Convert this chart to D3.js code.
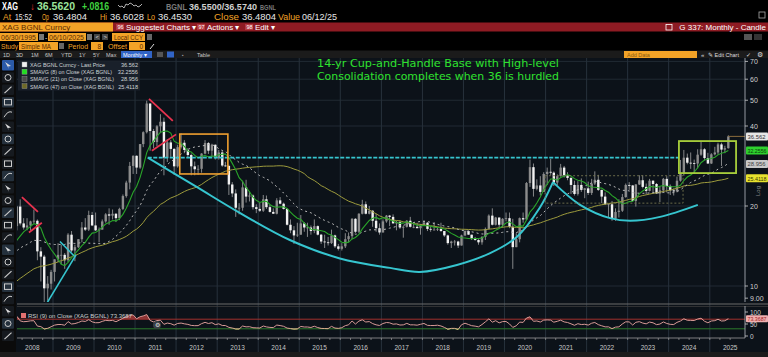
<!DOCTYPE html>
<html><head><meta charset="utf-8">
<script src="https://cdn.jsdelivr.net/npm/d3@7"></script>
<style>
html,body{margin:0;padding:0;background:#000;overflow:hidden;}
svg{display:block;font-family:"Liberation Sans",Arial,sans-serif;}
</style></head><body>
<svg id="c" width="768" height="357"></svg>
<script>
// ---------- DATA (monthly XAG, Jan 2008 .. Jun 2025) ----------
const open = [
14.8,16.8,19.9,17.2,16.6,16.9,17.5,17.6,13.5,12.9,9.8,10.2,
11.3,12.6,13.1,13.1,12.5,15.6,13.6,14.0,15.0,16.6,16.3,18.5,
16.9,16.2,16.3,17.5,18.6,18.4,18.7,18.0,19.5,21.8,24.5,28.3,
30.9,27.9,34.2,37.9,48.6,38.3,34.8,39.9,41.5,30.4,34.7,32.8,
28.2,33.3,34.6,32.5,31.1,28.2,27.5,27.6,31.5,34.5,32.3,34.0,
30.3,31.8,28.4,28.3,24.1,22.3,19.7,19.7,23.5,21.7,21.9,19.8,
19.5,19.2,21.2,19.8,19.0,18.7,21.0,20.4,19.5,17.0,16.2,15.5,
15.6,17.2,16.6,16.6,16.1,16.8,15.6,14.7,14.6,14.5,15.5,14.1,
13.8,14.1,15.0,15.4,17.9,16.0,18.7,20.3,18.7,19.2,17.6,16.5,
15.9,17.5,18.4,18.2,17.2,17.4,16.6,16.7,17.6,16.7,16.7,16.5,
16.9,17.3,16.4,16.3,16.3,16.4,16.1,15.5,14.5,14.7,14.7,14.2,
15.5,16.1,15.6,15.1,14.9,14.6,15.3,16.4,18.4,17.0,18.1,17.0,
17.9,18.0,16.7,14.0,15.0,18.0,17.8,24.4,28.0,23.2,23.9,22.6,
26.4,26.9,26.7,24.5,25.9,27.9,26.1,25.5,24.0,22.2,24.0,23.0,
23.3,22.4,24.3,25.1,23.0,21.7,20.3,20.3,17.9,19.0,19.2,21.6,
24.0,23.9,20.9,24.1,25.0,23.6,22.8,24.9,24.2,22.3,22.9,25.3,
23.8,22.9,22.7,24.9,26.6,30.4,29.1,29.0,28.9,31.2,32.7,30.3,
28.9,31.3,31.8,34.1,32.6,33.0];
const high = [
16.9,20.0,21.2,18.0,18.0,17.6,19.4,17.8,14.0,13.1,10.9,11.5,
12.6,14.5,14.3,13.3,15.8,16.1,14.3,15.0,17.4,18.0,19.2,19.0,
18.9,16.6,17.8,18.8,19.6,19.4,18.8,19.7,22.1,24.9,29.3,31.0,
31.0,34.2,38.2,49.8,48.7,39.0,40.3,44.3,43.0,35.7,35.4,33.0,
34.0,37.5,35.4,33.0,31.5,29.4,28.5,31.6,35.4,34.8,34.3,34.1,
32.5,32.4,29.3,28.6,24.6,23.1,20.5,24.9,25.1,22.7,22.1,20.3,
20.6,22.0,21.9,20.2,19.6,21.4,21.6,20.6,19.6,17.8,16.8,17.3,
18.5,17.4,17.3,16.9,17.8,16.9,15.7,15.6,15.3,16.3,15.6,14.4,
14.5,15.8,15.9,18.0,18.0,18.8,21.1,20.8,20.0,19.3,18.7,17.2,
17.8,18.5,18.5,18.6,17.6,17.7,16.8,17.7,18.2,17.4,17.3,17.1,
17.7,17.4,16.8,17.4,16.7,17.3,16.1,15.6,14.8,14.9,14.8,15.6,
16.2,16.2,15.6,15.3,15.0,15.4,16.6,18.6,19.6,18.2,18.1,18.0,
18.9,18.9,17.9,15.8,18.1,18.9,24.6,29.9,28.9,25.2,25.9,26.8,
27.9,30.1,27.0,26.3,28.8,28.3,26.8,25.7,24.9,24.8,25.4,23.4,
24.7,25.3,27.0,26.2,23.0,22.5,20.4,20.9,19.6,21.2,22.2,24.3,
24.6,24.0,24.2,26.1,26.1,24.3,25.3,25.0,24.4,23.7,25.5,25.9,
24.1,23.3,25.8,29.8,32.5,31.5,31.8,29.9,32.7,34.9,33.0,31.7,
31.6,33.4,34.6,34.6,33.7,36.9];
const low = [
14.8,16.2,16.9,16.3,16.2,16.2,17.2,12.5,10.4,8.4,8.8,9.7,
10.4,12.3,12.1,11.6,12.3,13.4,12.4,13.9,14.6,16.1,16.1,16.8,
16.1,14.6,16.3,17.3,17.0,17.8,17.4,17.7,19.3,21.5,23.1,26.4,
26.4,27.6,33.3,37.5,32.3,33.0,33.6,37.6,26.1,29.3,30.6,26.2,
27.9,32.9,31.6,30.3,26.1,26.1,26.2,26.7,31.3,31.4,30.7,29.9,
29.9,28.1,28.1,22.0,21.6,18.2,18.6,19.2,20.6,20.8,19.4,18.8,
19.0,19.0,19.5,18.9,18.7,18.6,20.3,19.4,16.9,15.8,14.4,15.3,
15.6,16.0,15.3,15.6,15.8,15.5,14.4,13.9,14.2,14.4,13.9,13.6,
13.6,13.9,14.6,15.0,15.8,15.8,18.6,18.6,18.6,16.7,16.0,15.6,
15.9,17.3,16.8,17.2,16.2,16.4,15.2,16.6,16.6,16.5,16.5,15.6,
16.9,16.1,16.0,16.2,16.1,16.0,15.3,14.3,13.9,14.2,13.9,14.2,
15.4,15.6,14.9,14.8,14.3,14.3,14.9,16.3,16.9,16.9,16.6,16.6,
17.5,16.5,11.6,14.0,14.6,17.3,17.7,23.6,21.7,22.9,21.9,22.6,
24.0,26.2,23.8,24.0,25.8,25.6,25.0,22.2,21.9,21.9,22.6,21.4,
22.0,22.0,24.0,22.8,20.5,20.2,18.1,17.6,17.6,18.1,19.0,21.5,
23.0,20.8,19.9,24.0,23.3,22.1,22.7,22.2,22.2,20.7,22.5,22.5,
22.0,21.9,22.5,24.7,26.0,28.7,27.6,26.5,27.7,30.9,29.7,28.8,
28.8,31.0,31.2,28.3,31.6,32.9];
const close = [
16.8,19.9,17.2,16.6,16.9,17.5,17.6,13.5,12.9,9.8,10.2,11.3,
12.6,13.1,13.1,12.5,15.6,13.6,14.0,15.0,16.6,16.3,18.5,16.9,
16.2,16.3,17.5,18.6,18.4,18.7,18.0,19.5,21.8,24.5,28.3,30.9,
27.9,34.2,37.9,48.6,38.3,34.8,39.9,41.5,30.4,34.7,32.8,28.2,
33.3,34.6,32.5,31.1,28.2,27.5,27.6,31.5,34.5,32.3,34.0,30.3,
31.8,28.4,28.3,24.1,22.3,19.7,19.7,23.5,21.7,21.9,19.8,19.5,
19.2,21.2,19.8,19.0,18.7,21.0,20.4,19.5,17.0,16.2,15.5,15.6,
17.2,16.6,16.6,16.1,16.8,15.6,14.7,14.6,14.5,15.5,14.1,13.8,
14.1,15.0,15.4,17.9,16.0,18.7,20.3,18.7,19.2,17.6,16.5,15.9,
17.5,18.4,18.2,17.2,17.4,16.6,16.7,17.6,16.7,16.7,16.5,16.9,
17.3,16.4,16.3,16.3,16.4,16.1,15.5,14.5,14.7,14.7,14.2,15.5,
16.1,15.6,15.1,14.9,14.6,15.3,16.4,18.4,17.0,18.1,17.0,17.9,
18.0,16.7,14.0,15.0,18.0,17.8,24.4,28.0,23.2,23.9,22.6,26.4,
26.9,26.7,24.5,25.9,27.9,26.1,25.5,24.0,22.2,24.0,23.0,23.3,
22.4,24.3,25.1,23.0,21.7,20.3,20.3,17.9,19.0,19.2,21.6,24.0,
23.9,20.9,24.1,25.0,23.6,22.8,24.9,24.2,22.3,22.9,25.3,23.8,
22.9,22.7,24.9,26.6,30.4,29.1,29.0,28.9,31.2,32.7,30.3,28.9,
31.3,31.8,34.1,32.6,33.0,36.56];
// closes 2004-2007 (used only to warm up the moving averages / RSI)
const priorCloses = [
6.36,6.69,7.91,6.04,6.09,5.86,6.60,6.78,6.95,7.28,7.52,6.82,
6.71,7.37,7.14,6.98,7.33,7.04,7.17,6.83,7.50,7.61,8.19,8.83,
9.86,9.65,11.53,13.60,12.40,10.84,11.28,12.93,11.57,12.62,14.04,12.90,
13.40,14.13,13.34,13.46,13.33,12.48,12.91,12.04,13.87,14.42,14.30,14.76];
const yearLabels = [2008,2009,2010,2011,2012,2013,2014,2015,2016,2017,2018,2019,2020,2021,2022,2023,2024,2025];
const priceTicks = [9,10,20,40,50,60,70];
const priceTickLabels = ["9.00","10","20","40","50","60","70"];
const rsiTicks = [0,50,100];
const legendNames = ["XAG BGNL Curncy - Last Price","SMAVG (8) on Close (XAG BGNL)","SMAVG (21) on Close (XAG BGNL)","SMAVG (47) on Close (XAG BGNL)"];
const legendValues = ["36.562","32.2556","28.956","25.4118"];
const rsiLabel = "RSI (9) on Close (XAG BGNL) 73.3687";
const rsiValueLabel = "73.3687";
const noteLines = ["14-yr Cup-and-Handle Base with High-level","Consolidation completes when 36 is hurdled"];
// drawn annotations, in [decimal year, price]
const resistancePrice = 30.4, resistanceFrom = 2011.31, resistanceTo = 2024.25;
const cupPts = [[2011.31,30.4],[2012.46,23.8],[2013.56,18.8],[2014.77,14.9],[2015.99,12.7],[2017.21,11.7],[2017.94,11.3],[2018.84,12.0],[2019.65,13.3],[2020.30,15.3],[2020.86,19.7],[2021.18,24.6]];
const handlePts = [[2021.18,24.6],[2021.84,20.2],[2022.57,18.0],[2023.06,17.6],[2023.79,18.2],[2024.71,20.2]];
const redLines = [[[2008.245,21.6],[2008.635,19.0]],[[2008.415,15.9],[2008.73,17.3]],[[2011.34,50.6],[2011.92,41.8]],[[2011.41,32.3],[2012.0,37.2]]];
const cyanLines = [[[2008.85,8.6],[2009.56,13.1]],[[2009.17,14.7],[2009.51,13.0]]];
const orangeBox = [[2012.09,37.3],[2013.26,26.4]];
const greenBox = [[2024.25,35.1],[2025.64,26.6]];
const grayBox = [[2020.99,26.0],[2024.35,20.5]];
const sparkVals = [5,3,4,2,6,5,7,6,4,5,3,4,6];

// ---------- SETUP ----------
const svg = d3.select("#c");
const PL=17, PR=745, PT=58, PB=302, RT=306, RB=338;
const x = d3.scaleTime().domain([new Date(2009,0,1), new Date(2025,0,1)]).range([53, 709.8]);
const y = d3.scaleLog().domain([10,20]).range([286,206]);
const yR = d3.scaleLinear().domain([0,100]).range([336,312]);
const months = d3.range(close.length).map(i => new Date(2008, i, 15));
const yd = t => new Date(new Date(Math.floor(t),0,1).getTime() + (t - Math.floor(t))*365.25*864e5);
const ORANGE="#f3a327";

const allClose = priorCloses.concat(close);
const off = priorCloses.length;
function sma(n){ return close.map((c,i)=>{const j=i+off; if(j<n-1) return null; return d3.mean(allClose.slice(j-n+1,j+1));}); }
function rsi(n){
  let ag=0, al=0; const out=[];
  for(let i=1;i<allClose.length;i++){
    const ch=allClose[i]-allClose[i-1], g=Math.max(ch,0), l=Math.max(-ch,0);
    if(i<=n){ag+=g/n; al+=l/n;} else {ag=(ag*(n-1)+g)/n; al=(al*(n-1)+l)/n;}
    out[i] = i>=n ? (al===0?100:100-100/(1+ag/al)) : null;
  }
  return close.map((c,i)=>out[i+off]);
}
const s8=sma(8), s21=sma(21), s47=sma(47), r9=rsi(9);

function T(g,xx,yy,str,o={}){
  const t = g.append("text").attr("x",xx).attr("y",yy).text(str)
   .attr("fill",o.c||"#ddd").attr("font-size",o.s||8).attr("font-weight",o.w||"normal")
   .attr("text-anchor",o.a||"start").attr("font-family",o.f||null);
  if(o.L) t.attr("textLength",o.L).attr("lengthAdjust","spacingAndGlyphs");
  return t;
}
function R(g,x0,y0,w,h,fill,o={}){
  return g.append("rect").attr("x",x0).attr("y",y0).attr("width",w).attr("height",h).attr("fill",fill)
   .attr("stroke",o.st||"none").attr("stroke-width",o.sw||1).attr("rx",o.rx||0);
}

// ---------- HEADER ----------
const hd = svg.append("g");
R(hd,0,0,768,58,"#000");
T(hd,2,10,"XAG",{c:"#fff",s:10,w:"bold",L:16});
T(hd,30,10,"↓",{c:"#e03030",s:10,w:"bold"});
T(hd,37,10,"36.5620",{c:"#9be39b",s:10,w:"bold",L:38});
T(hd,82,10,"+.0816",{c:"#3fd33f",s:10,w:"bold",L:27});
const spx=d3.scaleLinear().domain([0,sparkVals.length-1]).range([118,142]);
const spy=d3.scaleLinear().domain([0,8]).range([10,2]);
hd.append("path").attr("d",d3.line().x((d,i)=>spx(i)).y(d=>spy(d))(sparkVals)).attr("fill","none").attr("stroke","#ddd").attr("stroke-width",0.8);
T(hd,166,10,"BGNL",{c:"#7a7a7a",s:9,w:"bold",L:21});
T(hd,189,10,"36.5500/36.5740",{c:"#cfcfcf",s:9,w:"bold",L:68});
T(hd,260,10,"BGNL",{c:"#7a7a7a",s:8,w:"bold",L:16});
const r2=[["At",3,ORANGE,8],["15:52",15,"#e8e8e8",17],["Op",42,ORANGE,7],["36.4804",53,"#e8e8e8",34],["Hi",100,ORANGE,7],["36.6028",110,"#e8e8e8",34],["Lo",147,ORANGE,8],["36.4530",158,"#e8e8e8",34],["Close",214,ORANGE,25],["36.4804",242,"#e8e8e8",34],["Value",278,ORANGE,22],["06/12/25",302,"#e8e8e8",35]];
r2.forEach(d=>T(hd,d[1],20,d[0],{c:d[2],s:9,L:d[3]}));
// red bar
R(hd,0,22.5,768,9,"#8e1b23");
R(hd,0,22.5,113,9,ORANGE);
T(hd,2,30,"XAG BGNL Curncy",{c:"#5a2a00",s:8});
R(hd,116,24,8,6,"#b33a3f"); T(hd,117.5,29.3,"96",{c:"#fff",s:5.5});
T(hd,126,30,"Suggested Charts ▾",{c:"#fff",s:8});
R(hd,197,24,8,6,"#b33a3f"); T(hd,198.5,29.3,"97",{c:"#fff",s:5.5});
T(hd,207,30,"Actions ▾",{c:"#fff",s:8});
R(hd,245,24,8,6,"#b33a3f"); T(hd,246.5,29.3,"98",{c:"#fff",s:5.5});
T(hd,255,30,"Edit ▾",{c:"#fff",s:8});
R(hd,666,24.5,6,5.5,"none",{st:"#fff",sw:0.8});
T(hd,766,30,"G 337: Monthly - Candle",{c:"#fff",s:8,a:"end"});
R(hd,759,12,6,6,"none",{st:"#aaa",sw:0.8});
// row 4
R(hd,0,33,38,8,ORANGE); T(hd,1,39.5,"06/30/1995",{c:"#5a2a00",s:6.5,L:35});
R(hd,39,34,5,6,"#777"); T(hd,45,39.5,"-",{c:"#ddd",s:7});
R(hd,48,33,38,8,ORANGE); T(hd,49,39.5,"06/10/2025",{c:"#5a2a00",s:6.5,L:35});
R(hd,87,34,5,6,"#777");
R(hd,94,34,6,6,"#444"); T(hd,95.5,39.3,"<",{c:"#ddd",s:6});
R(hd,102,34,6,6,"#444"); T(hd,103.5,39.3,">",{c:"#ddd",s:6});
R(hd,112,33,33,8,ORANGE); T(hd,114,39.5,"Local CCY",{c:"#5a2a00",s:6.5,L:29});
R(hd,147,34,5,6,"#666");
R(hd,744,34,8,6,"#555"); R(hd,754,34,8,6,"#333");
// row 5
T(hd,1,48.5,"Study",{c:ORANGE,s:7,L:17});
R(hd,19,42,39,8,ORANGE); T(hd,21,48.5,"Simple MA",{c:"#5a2a00",s:6.5,L:30});
R(hd,59,43,5,6,"#666");
T(hd,68,48.5,"Period",{c:ORANGE,s:7,L:20});
R(hd,91,42,12,8,ORANGE); T(hd,101,48.5,"8",{c:"#5a2a00",s:6.5,a:"end"});
T(hd,108,48.5,"Offset",{c:ORANGE,s:7,L:19});
R(hd,129,42,16,8,ORANGE); T(hd,143,48.5,"0",{c:"#5a2a00",s:6.5,a:"end"});
hd.append("line").attr("x1",150).attr("y1",49).attr("x2",154).attr("y2",44).attr("stroke","#ddd").attr("stroke-width",1);
// row 6
R(hd,0,50.5,768,7.5,"#1b1b1b");
[["1D",3],["3D",16],["1M",31],["6M",45],["YTD",61],["1Y",79],["5Y",93],["Max",106]].forEach(d=>T(hd,d[1],56.5,d[0],{c:"#c8c8c8",s:5.5}));
R(hd,121,51,31,7,"#3164c6"); T(hd,123,56.5,"Monthly ▾",{c:"#fff",s:5.5});
R(hd,157,52,6,5,"#555"); R(hd,167,51.5,7,6,"#3164c6");
T(hd,182,56.5,"▪",{c:"#999",s:5});
T(hd,197,56.5,"Table",{c:"#c8c8c8",s:5.5});
R(hd,624,51,73,7,ORANGE); T(hd,627,56.5,"Add Data",{c:"#8a5a10",s:5.5});
T(hd,701,56.5,"«",{c:"#ddd",s:6});
T(hd,708,56.5,"✎ Edit Chart",{c:"#ddd",s:5.5});
T(hd,746,56.5,"✓",{c:"#ddd",s:6});
T(hd,757,56.5,"⚙",{c:"#ddd",s:6.5});

// ---------- CHART BACKGROUND ----------
R(svg,0,58,768,294,"#0c1219");
R(svg,0,352,768,5,"#1c1c1c");
const yearBounds = d3.range(2009,2026).map(yy=>new Date(yy,0,1));
svg.append("g").selectAll("line").data(yearBounds).join("line")
  .attr("x1",d=>x(d)).attr("x2",d=>x(d)).attr("y1",PT).attr("y2",352)
  .attr("stroke","#2f3a45").attr("stroke-width",0.8);
svg.append("g").selectAll("line").data(priceTicks.filter(v=>v>=10)).join("line")
  .attr("x1",PL).attr("x2",PR).attr("y1",d=>y(d)).attr("y2",d=>y(d))
  .attr("stroke","#26303a").attr("stroke-width",0.8);

svg.append("clipPath").attr("id","pc").append("rect").attr("x",PL).attr("y",PT).attr("width",PR-PL).attr("height",PB-PT);
svg.append("clipPath").attr("id","rc").append("rect").attr("x",PL).attr("y",RT).attr("width",PR-PL).attr("height",RB-RT);
svg.append("clipPath").attr("id","rlow").append("rect").attr("x",PL).attr("y",yR(30)).attr("width",PR-PL).attr("height",RB-yR(30));
const P = svg.append("g").attr("clip-path","url(#pc)");

// candles
const cw = 2.4;
const cg = P.append("g");
cg.selectAll("line").data(months).join("line")
  .attr("x1",(d)=>x(d)).attr("x2",d=>x(d))
  .attr("y1",(d,i)=>y(high[i])).attr("y2",(d,i)=>y(low[i]))
  .attr("stroke","#b9b9b9").attr("stroke-width",0.7);
cg.selectAll("rect").data(months).join("rect")
  .attr("x",d=>x(d)-cw/2).attr("width",cw)
  .attr("y",(d,i)=>y(Math.max(open[i],close[i])))
  .attr("height",(d,i)=>Math.max(0.8, y(Math.min(open[i],close[i]))-y(Math.max(open[i],close[i]))))
  .attr("fill",(d,i)=>close[i]>=open[i]?"#8c8c8c":"#f2f2f2");

// moving averages
const mline = arr => d3.line().defined((d,i)=>arr[i]!=null).x(d=>x(d)).y((d,i)=>y(arr[i]))(months);
P.append("path").attr("d",mline(s47)).attr("fill","none").attr("stroke","#9c9a3c").attr("stroke-width",1);
P.append("path").attr("d",mline(s21)).attr("fill","none").attr("stroke","#b8b8b8").attr("stroke-width",1).attr("stroke-dasharray","2,3");
P.append("path").attr("d",mline(s8)).attr("fill","none").attr("stroke","#2aa52a").attr("stroke-width",1.1);

// annotations
const dl = d3.line().x(d=>x(yd(d[0]))).y(d=>y(d[1]));
P.append("line").attr("x1",x(yd(resistanceFrom))).attr("x2",x(yd(resistanceTo))).attr("y1",y(resistancePrice)).attr("y2",y(resistancePrice))
  .attr("stroke","#36c5cf").attr("stroke-width",1.6).attr("stroke-dasharray","4,1.5");
const cl = d3.line().x(d=>x(yd(d[0]))).y(d=>y(d[1])).curve(d3.curveCatmullRom.alpha(0.5));
P.append("path").attr("d",cl(cupPts)).attr("fill","none").attr("stroke","#36c5cf").attr("stroke-width",2);
P.append("path").attr("d",cl(handlePts)).attr("fill","none").attr("stroke","#36c5cf").attr("stroke-width",2);
redLines.forEach(l=>P.append("path").attr("d",dl(l)).attr("stroke","#e8334f").attr("stroke-width",1.8).attr("fill","none"));
cyanLines.forEach(l=>P.append("path").attr("d",dl(l)).attr("stroke","#36c5cf").attr("stroke-width",1.6).attr("fill","none"));
function box(b,col,w,dash){
  const x0=x(yd(b[0][0])), x1=x(yd(b[1][0])), y0=y(b[0][1]), y1=y(b[1][1]);
  P.append("rect").attr("x",x0).attr("y",y0).attr("width",x1-x0).attr("height",y1-y0)
   .attr("fill","none").attr("stroke",col).attr("stroke-width",w).attr("stroke-dasharray",dash||null);
}
box(grayBox,"#75754f",0.9,"2,2");
box(orangeBox,"#f0a030",1.6);
box(greenBox,"#a8cf3c",1.8);

// last price line
const lastX = x(months[months.length-1]);
svg.append("line").attr("x1",lastX).attr("x2",PR).attr("y1",y(close[close.length-1])).attr("y2",y(close[close.length-1]))
  .attr("stroke","#8a6c3c").attr("stroke-width",1);

// note
noteLines.forEach((t,i)=>T(svg,317,67+i*12.5,t,{c:"#2fe22f",s:10.6,f:"'DejaVu Sans',sans-serif",L:242}));

// legend
const lg = svg.append("g");
R(lg,18,60.5,122,30,"#1b222b").attr("opacity",0.92);
const lcol=["#f2f2f2","#22dd22","#4a4a4a","#6e6a28"];
const legendLen=[75,82,84,84];
legendNames.forEach((n,i)=>{
  const yy=67+i*7.2;
  R(lg,22,yy-5,5,5,lcol[i],{st:"#999",sw:0.4});
  T(lg,30,yy,n,{c:"#cfd3d6",s:5.6,L:legendLen[i]});
  T(lg,138,yy,legendValues[i],{c:"#cfd3d6",s:5.6,a:"end"});
});

// right axis
svg.append("line").attr("x1",PR).attr("x2",PR).attr("y1",PT).attr("y2",PB).attr("stroke","#b8bec4").attr("stroke-width",0.8);
priceTicks.forEach((v,i)=>{
  svg.append("line").attr("x1",PR).attr("x2",PR+3).attr("y1",y(v)).attr("y2",y(v)).attr("stroke","#ccc").attr("stroke-width",0.8);
  T(svg,PR+5,y(v)+2.5,priceTickLabels[i],{c:"#d0d0d0",s:7});
});
function tag(yy,str,bg,fg){
  R(svg,PR+1,yy-4,22,8,bg,{rx:1});
  T(svg,PR+2.5,yy+2.3,str,{c:fg,s:6,L:Math.min(19,str.length*3)});
}
tag(y(close[close.length-1]),legendValues[0],"#e6e6e6","#333");
tag(y(s8[s8.length-1]),legendValues[1],"#2ed12e","#0a3a0a");
tag(y(s21[s21.length-1])+1,legendValues[2],"#c8c8c8","#444");
tag(y(s47[s47.length-1]),legendValues[3],"#e8e22e","#3a3a00");
T(svg,760,196,"Log",{c:"#8a8a8a",s:6}).attr("transform","rotate(-90 760 196)");

// separators
svg.append("line").attr("x1",PL).attr("x2",768).attr("y1",304).attr("y2",304).attr("stroke","#6a6a6a").attr("stroke-width",1.2);
svg.append("line").attr("x1",PL).attr("x2",768).attr("y1",306.5).attr("y2",306.5).attr("stroke","#3a3a3a").attr("stroke-width",0.8);

// ---------- RSI PANEL ----------
const RG = svg.append("g").attr("clip-path","url(#rc)");
RG.append("line").attr("x1",PL).attr("x2",PR).attr("y1",yR(70)).attr("y2",yR(70)).attr("stroke","#a3302e").attr("stroke-width",1);
RG.append("line").attr("x1",PL).attr("x2",PR).attr("y1",yR(30)).attr("y2",yR(30)).attr("stroke","#2c7a2c").attr("stroke-width",1);
const rArea = d3.area().defined((d,i)=>r9[i]!=null).x(d=>x(d)).y0(yR(70)).y1((d,i)=>yR(Math.max(r9[i],70)));
RG.append("path").attr("d",rArea(months)).attr("fill","#a33a3a").attr("opacity",0.85);
const rLine = d3.line().defined((d,i)=>r9[i]!=null).x(d=>x(d)).y((d,i)=>yR(r9[i]));
RG.append("path").attr("d",rLine(months)).attr("fill","none").attr("stroke","#d99a96").attr("stroke-width",1);
RG.append("path").attr("d",rLine(months)).attr("fill","none").attr("stroke","#d8d870").attr("stroke-width",1).attr("clip-path","url(#rlow)");
R(svg,21,313,5,5,"#e07070");
T(svg,28,318,rsiLabel,{c:"#d0d0d0",s:6});
svg.append("circle").attr("cx",157).attr("cy",325).attr("r",4).attr("fill","#3a3f45");
T(svg,157,327.3,"⚙",{c:"#ddd",s:6,a:"middle"});
svg.append("line").attr("x1",PR).attr("x2",PR).attr("y1",RT).attr("y2",RB).attr("stroke","#b8bec4").attr("stroke-width",0.8);
rsiTicks.forEach(v=>{
  svg.append("line").attr("x1",PR).attr("x2",PR+3).attr("y1",yR(v)).attr("y2",yR(v)).attr("stroke","#ccc").attr("stroke-width",0.8);
  T(svg,PR+5,yR(v)+2.5,String(v),{c:"#d0d0d0",s:6.5});
});
R(svg,PR+1,yR(r9[r9.length-1])-3.5,22,7,"#f0b0b0",{rx:1});
T(svg,PR+2.5,yR(r9[r9.length-1])+2,rsiValueLabel,{c:"#a02020",s:6,L:19});

// ---------- X AXIS ----------
svg.append("line").attr("x1",PL).attr("x2",PR).attr("y1",RB).attr("y2",RB).attr("stroke","#9a9a9a").attr("stroke-width",0.8);
const qt = d3.timeMonth.every(3).range(new Date(2008,0,1), new Date(2025,7,1));
svg.append("g").selectAll("line").data(qt).join("line")
  .attr("x1",d=>x(d)).attr("x2",d=>x(d)).attr("y1",RB).attr("y2",RB+2)
  .attr("stroke","#9a9a9a").attr("stroke-width",0.7);
yearLabels.forEach(yy=>{
  T(svg,x(new Date(yy,6,1)),350,String(yy),{c:"#c8c8c8",s:6.5,a:"middle"});
});

// ---------- LEFT TOOLBAR ----------
const tb = svg.append("g");
R(tb,0,58,16,294,"#0b0b0b");
d3.range(23).forEach(i=>{
  const yy=60+i*12.3;
  if(yy>345) return;
  R(tb,2,yy,12,10.5,i===0?"#2b5aa8":(i%3===0?"#24303c":"#161a1f"),{rx:1});
  const k=i%5;
  if(k===0) tb.append("path").attr("d",`M5 ${yy+2} L11 ${yy+6} L8 ${yy+6.5} L9 ${yy+9} Z`).attr("fill","#ddd");
  else if(k===1) tb.append("circle").attr("cx",8).attr("cy",yy+5.2).attr("r",3).attr("fill","none").attr("stroke","#ccc").attr("stroke-width",1);
  else if(k===2) tb.append("line").attr("x1",4.5).attr("y1",yy+8.5).attr("x2",11.5).attr("y2",yy+2).attr("stroke","#ccc").attr("stroke-width",1.2);
  else if(k===3) R(tb,4.5,yy+2.5,7,5.5,"none",{st:"#ccc",sw:1});
  else tb.append("path").attr("d",`M4 ${yy+8} Q8 ${yy+1} 12 ${yy+3}`).attr("fill","none").attr("stroke","#ccc").attr("stroke-width",1);
});
</script>
</body></html>
